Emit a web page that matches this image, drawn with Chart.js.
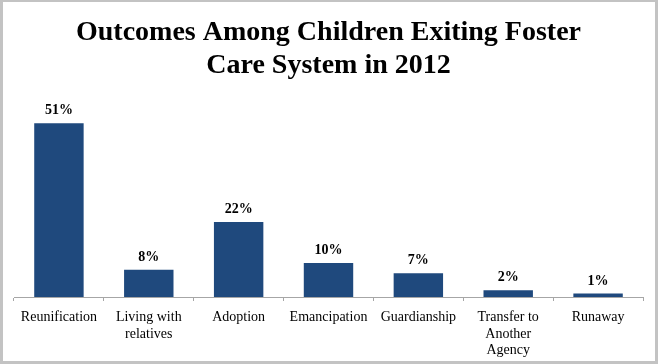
<!DOCTYPE html>
<html>
<head>
<meta charset="utf-8">
<script src="https://cdn.jsdelivr.net/npm/chart.js@4.4.1/dist/chart.umd.min.js"></script>
<style>
  html, body { margin: 0; padding: 0; background: #ffffff; }
  #wrap { width: 658px; height: 364px; position: relative; }
</style>
</head>
<body>
<div id="wrap"><canvas id="c" width="658" height="364"></canvas></div>
<script>
const titleLines = ['Outcomes Among Children Exiting Foster', 'Care System in 2012'];
const categories = [
  'Reunification',
  ['Living with', 'relatives'],
  'Adoption',
  'Emancipation',
  'Guardianship',
  ['Transfer to', 'Another', 'Agency'],
  'Runaway'
];
const values = [51, 8, 22, 10, 7, 2, 1];
const valueLabels = ['51%', '8%', '22%', '10%', '7%', '2%', '1%'];

const frameBorder = {
  id: 'frameBorder',
  afterDraw(chart) {
    const ctx = chart.ctx;
    const w = chart.width, h = chart.height;
    ctx.save();
    ctx.fillStyle = '#c3c3c3';
    ctx.fillRect(0, 0, 3, h);
    ctx.fillRect(0, 0, w, 2);
    ctx.fillRect(w - 3, 0, 3, h);
    ctx.fillRect(0, h - 3, w, 3);
    ctx.restore();
  }
};

const barLabels = {
  id: 'barLabels',
  afterDatasetsDraw(chart) {
    const ctx = chart.ctx;
    const meta = chart.getDatasetMeta(0);
    ctx.save();
    ctx.font = 'bold 14px "Liberation Serif", "Times New Roman", serif';
    ctx.fillStyle = '#000000';
    ctx.textAlign = 'center';
    ctx.textBaseline = 'middle';
    meta.data.forEach((bar, i) => {
      ctx.fillText(valueLabels[i], bar.x, bar.y - 12.5);
    });
    ctx.restore();
  }
};

new Chart(document.getElementById('c'), {
  type: 'bar',
  data: {
    labels: categories,
    datasets: [{
      data: values,
      backgroundColor: '#1f497d',
      borderWidth: 0,
      barPercentage: 0.55,
      categoryPercentage: 1.0
    }]
  },
  options: {
    responsive: false,
    animation: false,
    events: [],
    layout: { padding: { left: 14, right: 15, top: 0, bottom: 0 } },
    plugins: {
      legend: { display: false },
      tooltip: { enabled: false },
      title: {
        display: true,
        text: titleLines,
        color: '#000000',
        font: { family: '"Liberation Serif", "Times New Roman", serif', size: 28, weight: 'bold', lineHeight: 1.19 },
        padding: { top: 16, bottom: 10 }
      }
    },
    scales: {
      x: {
        afterFit(scale) { scale.height = 67; },
        grid: {
          display: true,
          drawOnChartArea: false,
          drawTicks: true,
          tickLength: 4,
          color: '#a6a6a6',
          offset: true
        },
        border: { display: true, color: '#a6a6a6', width: 1 },
        ticks: {
          color: '#000000',
          padding: 8,
          maxRotation: 0,
          autoSkip: false,
          font: { family: '"Liberation Serif", "Times New Roman", serif', size: 14, lineHeight: 1.19 }
        }
      },
      y: {
        display: false,
        min: 0,
        max: 60
      }
    }
  },
  plugins: [barLabels, frameBorder]
});
</script>
</body>
</html>
